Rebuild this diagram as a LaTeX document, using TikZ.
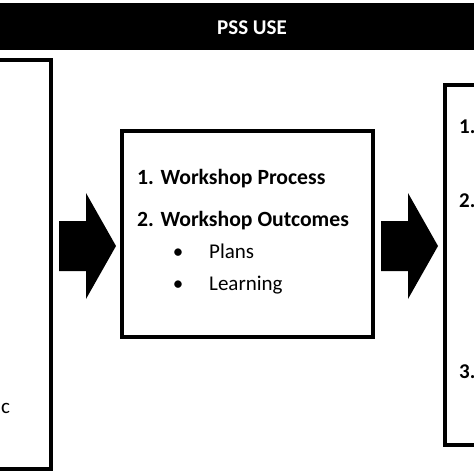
\documentclass[tikz,border=0pt]{standalone}
\usepackage{fontspec}
\setmainfont{Carlito}
\usetikzlibrary{positioning}
\tikzset{
	frame/.style={draw,line width=4pt,inner sep=0pt},
	txt/.style={anchor=base west,inner sep=0pt,font=\fontsize{21}{25}\selectfont},
	btxt/.style={txt,font=\fontsize{21}{25}\selectfont\bfseries},
	bigtxt/.style={txt,font=\fontsize{21.7}{26}\selectfont\bfseries},
}
\begin{document}
\begin{tikzpicture}[x=1pt,y=-1pt]
	\useasboundingbox (0,0) rectangle (474,474);
	% title bar
	\node[fill=black,inner sep=0pt,minimum width=474pt,minimum height=47.5pt] (bar) at (237,26.25) {};
	\node[btxt,anchor=base,white] (title) at (252,34) {PSS USE};
	% boxes
	\node[frame,minimum width=91pt,minimum height=409pt] (inbox) at (5.5,264.5) {};
	\node[frame,minimum width=251pt,minimum height=206pt] (wsbox) at (247.5,234) {};
	\node[frame,minimum width=96pt,minimum height=360pt] (outbox) at (492.5,265) {};
	% texts
	\node[txt] (inc) at (1,413) {c};
	\node[bigtxt] (ws1) at (137,184) {1. Workshop Process};
	\node[bigtxt] (ws2) at (137,226) {2. Workshop Outcomes};
	\node[txt,anchor=base] (b1) at (178,258) {\textbullet};
	\node[txt] (plans) at (209,258) {Plans};
	\node[txt,anchor=base] (b2) at (178,290) {\textbullet};
	\node[txt] (learn) at (209,290) {Learning};
	\node[btxt] (out1) at (459,133) {1.};
	\node[btxt] (out2) at (459,207) {2.};
	\node[btxt] (out3) at (459,378) {3.};
	% block arrows
	\coordinate (a1) at (59,221);
	\coordinate (a2) at (381,221);
	\foreach \s in {a1,a2}
		\fill (\s) -- ++(27,0) -- ++(0,-28) -- ++(30,53) -- ++(-30,53) -- ++(0,-28) -- ++(-27,0) -- cycle;
\end{tikzpicture}
\end{document}
